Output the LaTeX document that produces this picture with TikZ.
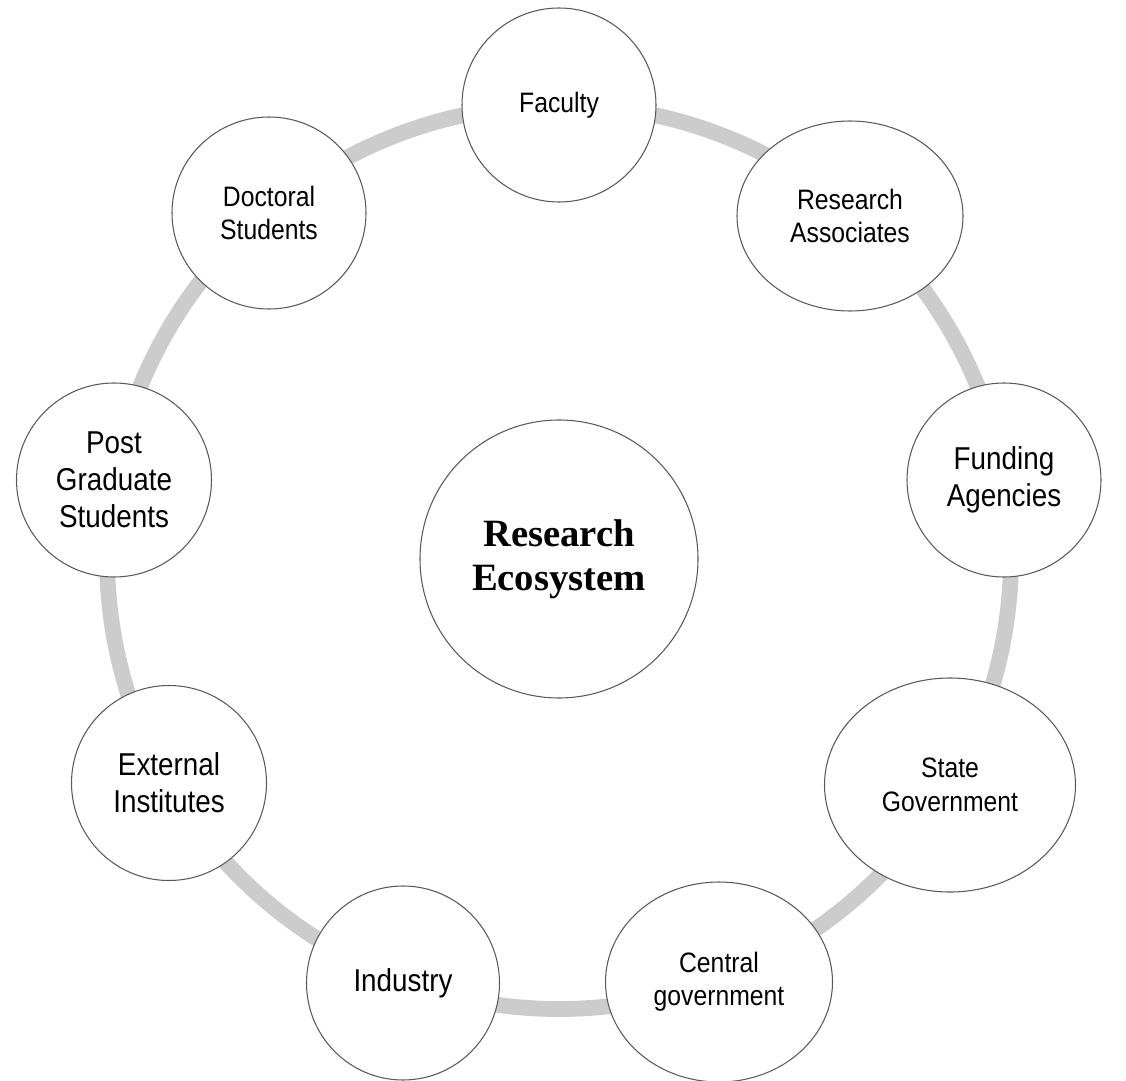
\documentclass[tikz,border=0pt]{standalone}
\usepackage{fontspec}
\setmainfont{Liberation Serif}
\newfontfamily\nar[FakeStretch=0.88]{Liberation Sans}
\usetikzlibrary{shapes.geometric}
\begin{document}
\begin{tikzpicture}[x=0.02cm,y=-0.02cm,
  bub/.style={ellipse,draw=black!65,line width=0.6pt,fill=white,align=center,inner sep=0pt,font=\nar\fontsize{16}{19}\selectfont},
  ring/.style={draw=black!20,line width=9pt}]
\useasboundingbox (0,0) rectangle (1126,1081);
\draw[ring] (559,557) circle (452);
\node[bub,minimum width=194*0.02cm,minimum height=194*0.02cm] (fac) at (559,105) {Faculty};
\node[bub,minimum width=226*0.02cm,minimum height=190*0.02cm] (ra) at (850,216) {Research\\Associates};
\node[bub,minimum width=194*0.02cm,minimum height=192*0.02cm] (doc) at (269,213) {Doctoral\\Students};
\node[bub,minimum width=195*0.02cm,minimum height=194*0.02cm,font=\nar\fontsize{18}{21}\selectfont] (pg) at (114,480) {Post\\Graduate\\Students};
\node[bub,minimum width=194*0.02cm,minimum height=194*0.02cm,font=\nar\fontsize{18}{21}\selectfont] (fund) at (1004,480) {Funding\\Agencies};
\node[bub,minimum width=251*0.02cm,minimum height=214*0.02cm] (sg) at (950,785) {State\\Government};
\node[bub,minimum width=227*0.02cm,minimum height=200*0.02cm] (cg) at (719,982) {Central\\government};
\node[bub,minimum width=193*0.02cm,minimum height=194*0.02cm,font=\nar\fontsize{18}{21}\selectfont] (ind) at (403,983) {Industry};
\node[bub,minimum width=195*0.02cm,minimum height=195*0.02cm,font=\nar\fontsize{18}{21}\selectfont] (ext) at (169,783) {External\\Institutes};
\node[bub,minimum width=278*0.02cm,minimum height=278*0.02cm,font=\bfseries\fontsize{22}{25}\selectfont] (c) at (559,559) {Research\\Ecosystem};
\end{tikzpicture}
\end{document}
